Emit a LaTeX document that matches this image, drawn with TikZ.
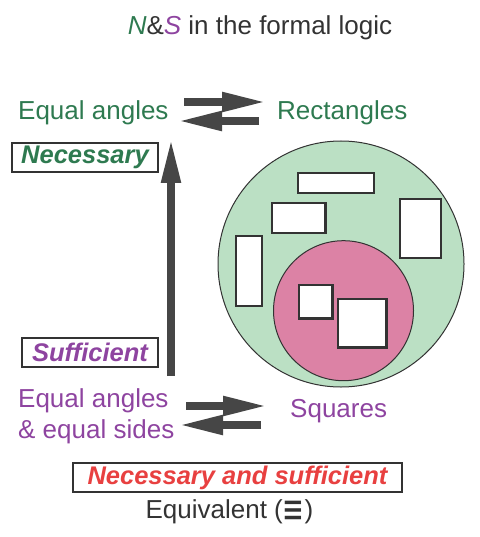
\documentclass[tikz,border=0pt]{standalone}
\usepackage{fontspec}
\setmainfont{Liberation Sans}
\newfontfamily\symfont{DejaVu Sans}
\usetikzlibrary{arrows.meta}
\definecolor{txtgreen}{RGB}{46,122,80}
\definecolor{txtpurple}{RGB}{142,68,160}
\definecolor{txtred}{RGB}{232,64,64}
\definecolor{txtdark}{RGB}{51,51,51}
\definecolor{arrowgray}{RGB}{70,70,70}
\definecolor{circgreen}{RGB}{187,224,196}
\definecolor{circpink}{RGB}{220,130,165}
\begin{document}
\begin{tikzpicture}[x=1pt,y=-1pt,
  lbl/.style={inner sep=0pt,anchor=base west,font=\fontsize{26}{30}\selectfont},
  tagbox/.style={draw=txtdark,line width=1.2pt,inner sep=0pt,minimum height=29pt,
    font=\fontsize{25.5}{28}\selectfont\bfseries\itshape},
  fatarrow/.style={draw=arrowgray,line width=8pt,
    -{Triangle[length=45pt,width=18pt]}},
  rectshape/.style={draw=txtdark,line width=2.6pt,fill=white}]
\useasboundingbox (0,0) rectangle (479,537);
% title
\node[lbl,anchor=base,text=txtdark] (title) at (260,35)
  {\textcolor{txtgreen}{\itshape N}\&\textcolor{txtpurple}{\itshape S} in the formal logic};
% top row
\node[lbl,text=txtgreen] (ea) at (18,120) {Equal angles};
\node[lbl,text=txtgreen] (rect) at (277,120) {Rectangles};
\coordinate (t1s) at (184,102); \coordinate (t1e) at (267,102);
\coordinate (t2s) at (259,121); \coordinate (t2e) at (177,121);
\draw[fatarrow] (t1s) -- (t1e);
\draw[fatarrow] (t2s) -- (t2e);
% tags
\node[tagbox,minimum width=146pt,text=txtgreen] (nec) at (85,157.5) {Necessary};
\node[tagbox,minimum width=136pt,text=txtpurple] (suf) at (90,352.5) {Sufficient};
% vertical arrow
\coordinate (vs) at (171,376); \coordinate (ve) at (171,138);
\draw[fatarrow] (vs) -- (ve);
% bottom row
\node[lbl,text=txtpurple] (eas1) at (18,407) {Equal angles};
\node[lbl,text=txtpurple] (eas2) at (18,438) {\& equal sides};
\node[lbl,text=txtpurple] (sq) at (290,417) {Squares};
\coordinate (b1s) at (186,406); \coordinate (b1e) at (268,406);
\coordinate (b2s) at (261,425); \coordinate (b2e) at (178,425);
\draw[fatarrow] (b1s) -- (b1e);
\draw[fatarrow] (b2s) -- (b2e);
% N&S
\node[lbl,tagbox,anchor=center,minimum width=329pt,text=txtred] (ns) at (237.5,477.5) {Necessary and sufficient};
\node[lbl,anchor=base,text=txtdark] (eq) at (229.5,518)
  {Equivalent (\raisebox{-5pt}{\scalebox{1.0}[1.6]{\symfont ≡}})};
% circles
\draw[fill=circgreen,draw=txtdark,line width=1pt] (341,264) circle[radius=123];
\draw[rectshape] (298,173) rectangle (374,193);
\draw[rectshape] (272,203) rectangle (325.5,233);
\draw[rectshape] (400,199) rectangle (441,258);
\draw[rectshape] (236,236) rectangle (262,306);
\draw[fill=circpink,draw=txtdark,line width=1pt] (343.5,310.7) circle[radius=70];
\draw[rectshape] (299,285) rectangle (332.5,318.5);
\draw[rectshape] (338,299) rectangle (386.5,347.5);
\end{tikzpicture}
\end{document}
